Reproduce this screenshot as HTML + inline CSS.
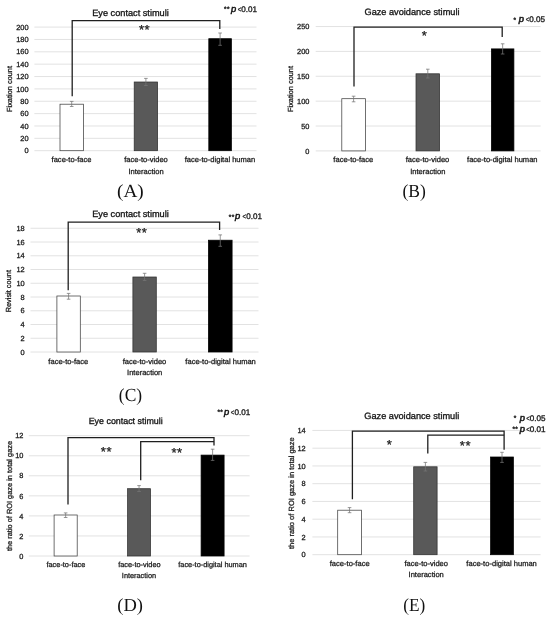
<!DOCTYPE html>
<html lang="en">
<head>
<meta charset="utf-8">
<title>Figure</title>
<style>
html,body{margin:0;padding:0;background:#fff;}
body{width:550px;height:619px;overflow:hidden;}
svg{display:block;}
text.s{font-family:"Liberation Sans", Arial, sans-serif;stroke:#1a1a1a;stroke-width:0.27px;text-rendering:geometricPrecision;}
text.r{font-family:"Liberation Serif", "Times New Roman", serif;text-rendering:geometricPrecision;}
</style>
</head>
<body>
<svg width="550" height="619" viewBox="0 0 550 619">
<rect width="550" height="619" fill="#ffffff"/>
<g>
<line x1="34.4" x2="256.5" y1="150.70" y2="150.70" stroke="#dfdfdf" stroke-width="0.9"/>
<text class="s" x="28.5" y="153.36" font-size="7.4" text-anchor="end" fill="#1a1a1a">0</text>
<line x1="34.4" x2="256.5" y1="138.34" y2="138.34" stroke="#dfdfdf" stroke-width="0.9"/>
<text class="s" x="28.5" y="141.0" font-size="7.4" text-anchor="end" fill="#1a1a1a">20</text>
<line x1="34.4" x2="256.5" y1="125.98" y2="125.98" stroke="#dfdfdf" stroke-width="0.9"/>
<text class="s" x="28.5" y="128.64" font-size="7.4" text-anchor="end" fill="#1a1a1a">40</text>
<line x1="34.4" x2="256.5" y1="113.62" y2="113.62" stroke="#dfdfdf" stroke-width="0.9"/>
<text class="s" x="28.5" y="116.28" font-size="7.4" text-anchor="end" fill="#1a1a1a">60</text>
<line x1="34.4" x2="256.5" y1="101.26" y2="101.26" stroke="#dfdfdf" stroke-width="0.9"/>
<text class="s" x="28.5" y="103.92" font-size="7.4" text-anchor="end" fill="#1a1a1a">80</text>
<line x1="34.4" x2="256.5" y1="88.90" y2="88.90" stroke="#dfdfdf" stroke-width="0.9"/>
<text class="s" x="28.5" y="91.56" font-size="7.4" text-anchor="end" fill="#1a1a1a">100</text>
<line x1="34.4" x2="256.5" y1="76.54" y2="76.54" stroke="#dfdfdf" stroke-width="0.9"/>
<text class="s" x="28.5" y="79.2" font-size="7.4" text-anchor="end" fill="#1a1a1a">120</text>
<line x1="34.4" x2="256.5" y1="64.18" y2="64.18" stroke="#dfdfdf" stroke-width="0.9"/>
<text class="s" x="28.5" y="66.84" font-size="7.4" text-anchor="end" fill="#1a1a1a">140</text>
<line x1="34.4" x2="256.5" y1="51.82" y2="51.82" stroke="#dfdfdf" stroke-width="0.9"/>
<text class="s" x="28.5" y="54.48" font-size="7.4" text-anchor="end" fill="#1a1a1a">160</text>
<line x1="34.4" x2="256.5" y1="39.46" y2="39.46" stroke="#dfdfdf" stroke-width="0.9"/>
<text class="s" x="28.5" y="42.12" font-size="7.4" text-anchor="end" fill="#1a1a1a">180</text>
<line x1="34.4" x2="256.5" y1="27.10" y2="27.10" stroke="#dfdfdf" stroke-width="0.9"/>
<text class="s" x="28.5" y="29.76" font-size="7.4" text-anchor="end" fill="#1a1a1a">200</text>
<text class="s" x="130.5" y="15.6" font-size="9.2" text-anchor="middle" fill="#111" style="stroke-width:0.33px">Eye contact stimuli</text>
<text class="s" font-size="7.4" text-anchor="middle" fill="#1a1a1a" transform="translate(12,89) rotate(-90)">Fixation count</text>
<rect x="60.00" y="104.20" width="23.40" height="46.50" fill="#ffffff" stroke="#404040" stroke-width="0.75"/>
<path d="M71.70 101.40V106.50M69.90 101.40H73.50M69.90 106.50H73.50" stroke="#757575" stroke-width="0.75" fill="none"/>
<rect x="134.20" y="82.00" width="23.40" height="68.70" fill="#595959" stroke="#303030" stroke-width="0.75"/>
<path d="M145.90 78.40V85.50M144.10 78.40H147.70M144.10 85.50H147.70" stroke="#757575" stroke-width="0.75" fill="none"/>
<rect x="208.80" y="38.70" width="22.60" height="112.00" fill="#000000" stroke="#000000" stroke-width="0.75"/>
<path d="M220.10 33.00V45.30M218.30 33.00H221.90M218.30 45.30H221.90" stroke="#757575" stroke-width="0.75" fill="none"/>
<text class="s" x="71.5" y="162" font-size="7.55" text-anchor="middle" fill="#1a1a1a">face-to-face</text>
<text class="s" x="146" y="162" font-size="7.55" text-anchor="middle" fill="#1a1a1a">face-to-video</text>
<text class="s" x="220" y="162" font-size="7.55" text-anchor="middle" fill="#1a1a1a">face-to-digital human</text>
<text class="s" x="146" y="174" font-size="7.55" text-anchor="middle" fill="#1a1a1a">Interaction</text>
<path d="M72.2 96.3V20.6H219.8V29" stroke="#1f1f1f" stroke-width="1.3" fill="none" stroke-linejoin="miter"/>
<text class="s" x="144.5" y="34.2" font-size="13" text-anchor="middle" fill="#222" letter-spacing="0.5">**</text>
<text class="s" x="224" y="11.10" font-size="6.4" font-weight="bold" fill="#111" letter-spacing="0.4">**</text>
<text class="s" x="231.10" y="11.8" font-size="9.4" font-style="italic" fill="#111" style="stroke:#111;stroke-width:0.5px">p</text>
<text class="s" x="237.80" y="11.8" font-size="7.7" fill="#333" textLength="3.6" lengthAdjust="spacingAndGlyphs">&lt;</text>
<text class="s" x="241.30" y="11.8" font-size="8.1" fill="#111" style="stroke-width:0.32px">0.01</text>
<text class="r" x="130.4" y="196.5" font-size="18.5" text-anchor="middle" fill="#111" textLength="26.8" lengthAdjust="spacingAndGlyphs">(A)</text>
</g>
<g>
<line x1="315.7" x2="540.6" y1="150.90" y2="150.90" stroke="#dfdfdf" stroke-width="0.9"/>
<text class="s" x="309.4" y="153.56" font-size="7.4" text-anchor="end" fill="#1a1a1a">0</text>
<line x1="315.7" x2="540.6" y1="126.03" y2="126.03" stroke="#dfdfdf" stroke-width="0.9"/>
<text class="s" x="309.4" y="128.69" font-size="7.4" text-anchor="end" fill="#1a1a1a">50</text>
<line x1="315.7" x2="540.6" y1="101.16" y2="101.16" stroke="#dfdfdf" stroke-width="0.9"/>
<text class="s" x="309.4" y="103.82" font-size="7.4" text-anchor="end" fill="#1a1a1a">100</text>
<line x1="315.7" x2="540.6" y1="76.29" y2="76.29" stroke="#dfdfdf" stroke-width="0.9"/>
<text class="s" x="309.4" y="78.95" font-size="7.4" text-anchor="end" fill="#1a1a1a">150</text>
<line x1="315.7" x2="540.6" y1="51.42" y2="51.42" stroke="#dfdfdf" stroke-width="0.9"/>
<text class="s" x="309.4" y="54.08" font-size="7.4" text-anchor="end" fill="#1a1a1a">200</text>
<line x1="315.7" x2="540.6" y1="26.55" y2="26.55" stroke="#dfdfdf" stroke-width="0.9"/>
<text class="s" x="309.4" y="29.21" font-size="7.4" text-anchor="end" fill="#1a1a1a">250</text>
<text class="s" x="412" y="15" font-size="9.2" text-anchor="middle" fill="#111" style="stroke-width:0.33px">Gaze avoidance stimuli</text>
<text class="s" font-size="7.4" text-anchor="middle" fill="#1a1a1a" transform="translate(293,89) rotate(-90)">Fixation count</text>
<rect x="341.80" y="98.70" width="23.60" height="52.20" fill="#ffffff" stroke="#404040" stroke-width="0.75"/>
<path d="M353.60 96.20V101.80M351.80 96.20H355.40M351.80 101.80H355.40" stroke="#757575" stroke-width="0.75" fill="none"/>
<rect x="416.00" y="73.80" width="23.60" height="77.10" fill="#595959" stroke="#303030" stroke-width="0.75"/>
<path d="M427.80 69.20V78.00M426.00 69.20H429.60M426.00 78.00H429.60" stroke="#757575" stroke-width="0.75" fill="none"/>
<rect x="491.40" y="48.90" width="22.50" height="102.00" fill="#000000" stroke="#000000" stroke-width="0.75"/>
<path d="M502.65 43.80V54.00M500.85 43.80H504.45M500.85 54.00H504.45" stroke="#757575" stroke-width="0.75" fill="none"/>
<text class="s" x="353.3" y="162" font-size="7.55" text-anchor="middle" fill="#1a1a1a">face-to-face</text>
<text class="s" x="427.5" y="162" font-size="7.55" text-anchor="middle" fill="#1a1a1a">face-to-video</text>
<text class="s" x="502.3" y="162" font-size="7.55" text-anchor="middle" fill="#1a1a1a">face-to-digital human</text>
<text class="s" x="427.8" y="174" font-size="7.55" text-anchor="middle" fill="#1a1a1a">Interaction</text>
<path d="M354 86.5V27.2H502.2V37" stroke="#1f1f1f" stroke-width="1.3" fill="none" stroke-linejoin="miter"/>
<text class="s" x="424.6" y="40.0" font-size="13" text-anchor="middle" fill="#222" letter-spacing="0.5">*</text>
<text class="s" x="513.4" y="21.70" font-size="6.4" font-weight="bold" fill="#111" letter-spacing="0.4">*</text>
<text class="s" x="518.70" y="22.4" font-size="9.4" font-style="italic" fill="#111" style="stroke:#111;stroke-width:0.5px">p</text>
<text class="s" x="525.70" y="22.4" font-size="7.7" fill="#333" textLength="3.6" lengthAdjust="spacingAndGlyphs">&lt;</text>
<text class="s" x="529.20" y="22.4" font-size="8.1" fill="#111" style="stroke-width:0.32px">0.05</text>
<text class="r" x="414.1" y="196.5" font-size="18.5" text-anchor="middle" fill="#111" textLength="23.4" lengthAdjust="spacingAndGlyphs">(B)</text>
</g>
<g>
<line x1="30.5" x2="258.5" y1="352.00" y2="352.00" stroke="#dfdfdf" stroke-width="0.9"/>
<text class="s" x="24.7" y="354.66" font-size="7.4" text-anchor="end" fill="#1a1a1a">0</text>
<line x1="30.5" x2="258.5" y1="338.25" y2="338.25" stroke="#dfdfdf" stroke-width="0.9"/>
<text class="s" x="24.7" y="340.91" font-size="7.4" text-anchor="end" fill="#1a1a1a">2</text>
<line x1="30.5" x2="258.5" y1="324.50" y2="324.50" stroke="#dfdfdf" stroke-width="0.9"/>
<text class="s" x="24.7" y="327.16" font-size="7.4" text-anchor="end" fill="#1a1a1a">4</text>
<line x1="30.5" x2="258.5" y1="310.75" y2="310.75" stroke="#dfdfdf" stroke-width="0.9"/>
<text class="s" x="24.7" y="313.41" font-size="7.4" text-anchor="end" fill="#1a1a1a">6</text>
<line x1="30.5" x2="258.5" y1="297.00" y2="297.00" stroke="#dfdfdf" stroke-width="0.9"/>
<text class="s" x="24.7" y="299.66" font-size="7.4" text-anchor="end" fill="#1a1a1a">8</text>
<line x1="30.5" x2="258.5" y1="283.25" y2="283.25" stroke="#dfdfdf" stroke-width="0.9"/>
<text class="s" x="24.7" y="285.91" font-size="7.4" text-anchor="end" fill="#1a1a1a">10</text>
<line x1="30.5" x2="258.5" y1="269.50" y2="269.50" stroke="#dfdfdf" stroke-width="0.9"/>
<text class="s" x="24.7" y="272.16" font-size="7.4" text-anchor="end" fill="#1a1a1a">12</text>
<line x1="30.5" x2="258.5" y1="255.75" y2="255.75" stroke="#dfdfdf" stroke-width="0.9"/>
<text class="s" x="24.7" y="258.41" font-size="7.4" text-anchor="end" fill="#1a1a1a">14</text>
<line x1="30.5" x2="258.5" y1="242.00" y2="242.00" stroke="#dfdfdf" stroke-width="0.9"/>
<text class="s" x="24.7" y="244.66" font-size="7.4" text-anchor="end" fill="#1a1a1a">16</text>
<line x1="30.5" x2="258.5" y1="228.25" y2="228.25" stroke="#dfdfdf" stroke-width="0.9"/>
<text class="s" x="24.7" y="230.91" font-size="7.4" text-anchor="end" fill="#1a1a1a">18</text>
<text class="s" x="130.5" y="217" font-size="9.2" text-anchor="middle" fill="#111" style="stroke-width:0.33px">Eye contact stimuli</text>
<text class="s" font-size="7.4" text-anchor="middle" fill="#1a1a1a" transform="translate(11.2,291.2) rotate(-90)">Revisit count</text>
<rect x="56.90" y="296.00" width="23.40" height="56.00" fill="#ffffff" stroke="#404040" stroke-width="0.75"/>
<path d="M68.60 293.40V299.20M66.80 293.40H70.40M66.80 299.20H70.40" stroke="#757575" stroke-width="0.75" fill="none"/>
<rect x="132.90" y="277.00" width="23.40" height="75.00" fill="#595959" stroke="#303030" stroke-width="0.75"/>
<path d="M144.60 273.30V280.50M142.80 273.30H146.40M142.80 280.50H146.40" stroke="#757575" stroke-width="0.75" fill="none"/>
<rect x="208.40" y="240.20" width="23.70" height="111.80" fill="#000000" stroke="#000000" stroke-width="0.75"/>
<path d="M220.25 234.90V246.30M218.45 234.90H222.05M218.45 246.30H222.05" stroke="#757575" stroke-width="0.75" fill="none"/>
<text class="s" x="68.3" y="363.7" font-size="7.55" text-anchor="middle" fill="#1a1a1a">face-to-face</text>
<text class="s" x="144.5" y="363.7" font-size="7.55" text-anchor="middle" fill="#1a1a1a">face-to-video</text>
<text class="s" x="220.6" y="363.7" font-size="7.55" text-anchor="middle" fill="#1a1a1a">face-to-digital human</text>
<text class="s" x="144.7" y="375.2" font-size="7.55" text-anchor="middle" fill="#1a1a1a">Interaction</text>
<path d="M68.2 290.3V222.1H219.6V230" stroke="#1f1f1f" stroke-width="1.3" fill="none" stroke-linejoin="miter"/>
<text class="s" x="141.8" y="236.8" font-size="13" text-anchor="middle" fill="#222" letter-spacing="0.5">**</text>
<text class="s" x="228.8" y="218.50" font-size="6.4" font-weight="bold" fill="#111" letter-spacing="0.4">**</text>
<text class="s" x="235.10" y="219.2" font-size="9.4" font-style="italic" fill="#111" style="stroke:#111;stroke-width:0.5px">p</text>
<text class="s" x="242.40" y="219.2" font-size="7.7" fill="#333" textLength="3.6" lengthAdjust="spacingAndGlyphs">&lt;</text>
<text class="s" x="246.20" y="219.2" font-size="8.1" fill="#111" style="stroke-width:0.32px">0.01</text>
<text class="r" x="130.5" y="401" font-size="18.5" text-anchor="middle" fill="#111" textLength="23.3" lengthAdjust="spacingAndGlyphs">(C)</text>
</g>
<g>
<line x1="28.8" x2="249.6" y1="556.00" y2="556.00" stroke="#dfdfdf" stroke-width="0.9"/>
<text class="s" x="23.4" y="558.66" font-size="7.4" text-anchor="end" fill="#1a1a1a">0</text>
<line x1="28.8" x2="249.6" y1="535.95" y2="535.95" stroke="#dfdfdf" stroke-width="0.9"/>
<text class="s" x="23.4" y="538.61" font-size="7.4" text-anchor="end" fill="#1a1a1a">2</text>
<line x1="28.8" x2="249.6" y1="515.90" y2="515.90" stroke="#dfdfdf" stroke-width="0.9"/>
<text class="s" x="23.4" y="518.56" font-size="7.4" text-anchor="end" fill="#1a1a1a">4</text>
<line x1="28.8" x2="249.6" y1="495.85" y2="495.85" stroke="#dfdfdf" stroke-width="0.9"/>
<text class="s" x="23.4" y="498.51" font-size="7.4" text-anchor="end" fill="#1a1a1a">6</text>
<line x1="28.8" x2="249.6" y1="475.80" y2="475.80" stroke="#dfdfdf" stroke-width="0.9"/>
<text class="s" x="23.4" y="478.46" font-size="7.4" text-anchor="end" fill="#1a1a1a">8</text>
<line x1="28.8" x2="249.6" y1="455.75" y2="455.75" stroke="#dfdfdf" stroke-width="0.9"/>
<text class="s" x="23.4" y="458.41" font-size="7.4" text-anchor="end" fill="#1a1a1a">10</text>
<line x1="28.8" x2="249.6" y1="435.70" y2="435.70" stroke="#dfdfdf" stroke-width="0.9"/>
<text class="s" x="23.4" y="438.36" font-size="7.4" text-anchor="end" fill="#1a1a1a">12</text>
<text class="s" x="125.7" y="424.2" font-size="8.9" text-anchor="middle" fill="#111" style="stroke-width:0.33px">Eye contact stimuli</text>
<text class="s" font-size="7.4" text-anchor="middle" fill="#1a1a1a" transform="translate(12,496) rotate(-90)">the ratio of ROI gaze in total gaze</text>
<rect x="54.10" y="515.00" width="23.10" height="41.00" fill="#ffffff" stroke="#404040" stroke-width="0.75"/>
<path d="M65.65 512.90V517.50M63.85 512.90H67.45M63.85 517.50H67.45" stroke="#757575" stroke-width="0.75" fill="none"/>
<rect x="127.60" y="488.70" width="22.90" height="67.30" fill="#595959" stroke="#303030" stroke-width="0.75"/>
<path d="M139.05 485.60V491.50M137.25 485.60H140.85M137.25 491.50H140.85" stroke="#757575" stroke-width="0.75" fill="none"/>
<rect x="201.10" y="455.10" width="23.00" height="100.90" fill="#000000" stroke="#000000" stroke-width="0.75"/>
<path d="M212.60 449.20V460.40M210.80 449.20H214.40M210.80 460.40H214.40" stroke="#757575" stroke-width="0.75" fill="none"/>
<text class="s" x="65.9" y="567.4" font-size="7.35" text-anchor="middle" fill="#1a1a1a">face-to-face</text>
<text class="s" x="139.4" y="567.4" font-size="7.35" text-anchor="middle" fill="#1a1a1a">face-to-video</text>
<text class="s" x="212.6" y="567.4" font-size="7.35" text-anchor="middle" fill="#1a1a1a">face-to-digital human</text>
<text class="s" x="139" y="577.8" font-size="7.35" text-anchor="middle" fill="#1a1a1a">Interaction</text>
<path d="M68 504.6V437.7H214V445.5" stroke="#1f1f1f" stroke-width="1.3" fill="none" stroke-linejoin="miter"/>
<path d="M140.7 480.2V441.6H214" stroke="#1f1f1f" stroke-width="1.3" fill="none" stroke-linejoin="miter"/>
<text class="s" x="106.4" y="456.4" font-size="13" text-anchor="middle" fill="#222" letter-spacing="0.5">**</text>
<text class="s" x="177.0" y="457.2" font-size="13" text-anchor="middle" fill="#222" letter-spacing="0.5">**</text>
<text class="s" x="217.4" y="414.30" font-size="6.4" font-weight="bold" fill="#111" letter-spacing="0.4">**</text>
<text class="s" x="224.00" y="415" font-size="9.4" font-style="italic" fill="#111" style="stroke:#111;stroke-width:0.5px">p</text>
<text class="s" x="230.70" y="415" font-size="7.7" fill="#333" textLength="3.6" lengthAdjust="spacingAndGlyphs">&lt;</text>
<text class="s" x="234.40" y="415" font-size="8.1" fill="#111" style="stroke-width:0.32px">0.01</text>
<text class="r" x="130.1" y="610.5" font-size="18.5" text-anchor="middle" fill="#111">(D)</text>
</g>
<g>
<line x1="312.4" x2="540.6" y1="554.70" y2="554.70" stroke="#dfdfdf" stroke-width="0.9"/>
<text class="s" x="305.7" y="557.36" font-size="7.4" text-anchor="end" fill="#1a1a1a">0</text>
<line x1="312.4" x2="540.6" y1="536.95" y2="536.95" stroke="#dfdfdf" stroke-width="0.9"/>
<text class="s" x="305.7" y="539.61" font-size="7.4" text-anchor="end" fill="#1a1a1a">2</text>
<line x1="312.4" x2="540.6" y1="519.20" y2="519.20" stroke="#dfdfdf" stroke-width="0.9"/>
<text class="s" x="305.7" y="521.86" font-size="7.4" text-anchor="end" fill="#1a1a1a">4</text>
<line x1="312.4" x2="540.6" y1="501.45" y2="501.45" stroke="#dfdfdf" stroke-width="0.9"/>
<text class="s" x="305.7" y="504.11" font-size="7.4" text-anchor="end" fill="#1a1a1a">6</text>
<line x1="312.4" x2="540.6" y1="483.70" y2="483.70" stroke="#dfdfdf" stroke-width="0.9"/>
<text class="s" x="305.7" y="486.36" font-size="7.4" text-anchor="end" fill="#1a1a1a">8</text>
<line x1="312.4" x2="540.6" y1="465.95" y2="465.95" stroke="#dfdfdf" stroke-width="0.9"/>
<text class="s" x="305.7" y="468.61" font-size="7.4" text-anchor="end" fill="#1a1a1a">10</text>
<line x1="312.4" x2="540.6" y1="448.20" y2="448.20" stroke="#dfdfdf" stroke-width="0.9"/>
<text class="s" x="305.7" y="450.86" font-size="7.4" text-anchor="end" fill="#1a1a1a">12</text>
<line x1="312.4" x2="540.6" y1="430.45" y2="430.45" stroke="#dfdfdf" stroke-width="0.9"/>
<text class="s" x="305.7" y="433.11" font-size="7.4" text-anchor="end" fill="#1a1a1a">14</text>
<text class="s" x="411.8" y="418.9" font-size="9.2" text-anchor="middle" fill="#111" style="stroke-width:0.33px">Gaze avoidance stimuli</text>
<text class="s" font-size="7.5" text-anchor="middle" fill="#1a1a1a" transform="translate(293.5,493.2) rotate(-90)">the ratio of ROI gaze in total gaze</text>
<rect x="337.70" y="510.20" width="23.70" height="44.50" fill="#ffffff" stroke="#404040" stroke-width="0.75"/>
<path d="M349.55 507.60V512.70M347.75 507.60H351.35M347.75 512.70H351.35" stroke="#757575" stroke-width="0.75" fill="none"/>
<rect x="413.70" y="466.80" width="23.40" height="87.90" fill="#595959" stroke="#303030" stroke-width="0.75"/>
<path d="M425.40 462.40V471.00M423.60 462.40H427.20M423.60 471.00H427.20" stroke="#757575" stroke-width="0.75" fill="none"/>
<rect x="490.60" y="457.00" width="22.80" height="97.70" fill="#000000" stroke="#000000" stroke-width="0.75"/>
<path d="M502.00 452.30V462.40M500.20 452.30H503.80M500.20 462.40H503.80" stroke="#757575" stroke-width="0.75" fill="none"/>
<text class="s" x="349.7" y="565.9" font-size="7.55" text-anchor="middle" fill="#1a1a1a">face-to-face</text>
<text class="s" x="426.2" y="565.9" font-size="7.55" text-anchor="middle" fill="#1a1a1a">face-to-video</text>
<text class="s" x="501.6" y="565.9" font-size="7.55" text-anchor="middle" fill="#1a1a1a">face-to-digital human</text>
<text class="s" x="426.2" y="576.8" font-size="7.55" text-anchor="middle" fill="#1a1a1a">Interaction</text>
<path d="M352.4 499.3V431.1H504.1V449.7" stroke="#1f1f1f" stroke-width="1.3" fill="none" stroke-linejoin="miter"/>
<path d="M427.8 453.5V435.2H504.1" stroke="#1f1f1f" stroke-width="1.3" fill="none" stroke-linejoin="miter"/>
<text class="s" x="389.6" y="449.0" font-size="13" text-anchor="middle" fill="#222" letter-spacing="0.5">*</text>
<text class="s" x="465.4" y="450.1" font-size="13" text-anchor="middle" fill="#222" letter-spacing="0.5">**</text>
<text class="s" x="513.8" y="419.90" font-size="6.4" font-weight="bold" fill="#111" letter-spacing="0.4">*</text>
<text class="s" x="519.80" y="420.6" font-size="9.4" font-style="italic" fill="#111" style="stroke:#111;stroke-width:0.5px">p</text>
<text class="s" x="526.20" y="420.6" font-size="7.7" fill="#333" textLength="3.6" lengthAdjust="spacingAndGlyphs">&lt;</text>
<text class="s" x="529.70" y="420.6" font-size="8.1" fill="#111" style="stroke-width:0.32px">0.05</text>
<text class="s" x="512.4" y="430.80" font-size="6.4" font-weight="bold" fill="#111" letter-spacing="0.4">**</text>
<text class="s" x="519.80" y="431.5" font-size="9.4" font-style="italic" fill="#111" style="stroke:#111;stroke-width:0.5px">p</text>
<text class="s" x="526.20" y="431.5" font-size="7.7" fill="#333" textLength="3.6" lengthAdjust="spacingAndGlyphs">&lt;</text>
<text class="s" x="529.70" y="431.5" font-size="8.1" fill="#111" style="stroke-width:0.32px">0.01</text>
<text class="r" x="414.2" y="610.5" font-size="18.5" text-anchor="middle" fill="#111" textLength="22" lengthAdjust="spacingAndGlyphs">(E)</text>
</g>
</svg>
</body>
</html>
